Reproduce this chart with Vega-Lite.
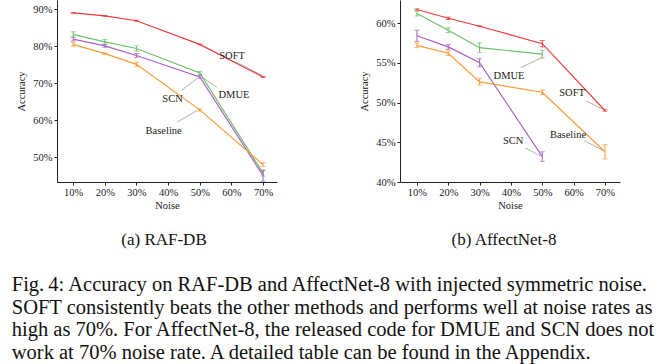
{
  "$schema": "https://vega.github.io/schema/vega-lite/v6.json",
  "background": "white",
  "padding": {"left": 11, "top": 0, "right": 0, "bottom": 0},
  "autosize": {"type": "pad"},
  "config": {
    "font": "Liberation Serif",
    "view": {"stroke": null},
    "axis": {
      "labelFont": "Liberation Serif", "labelFontSize": 10.5, "labelColor": "#222", "labelOverlap": false,
      "titleFont": "Liberation Serif", "titleFontSize": 10.5, "titleFontWeight": "normal", "titleColor": "#222",
      "grid": false, "domainColor": "#222", "domainWidth": 1, "tickColor": "#222", "tickSize": 3, "labelPadding": 2
    },
    "axisX": {"titlePadding": 3},
    "axisY": {"titlePadding": 6},
    "title": {"font": "Liberation Serif", "fontWeight": "normal", "color": "#111"}
  },
  "datasets": {
    "acc": [
      {"ds": "RAF-DB", "method": "SOFT", "noise": 0.1, "acc": 0.890, "err": 0.001},
      {"ds": "RAF-DB", "method": "SOFT", "noise": 0.2, "acc": 0.882, "err": 0.001},
      {"ds": "RAF-DB", "method": "SOFT", "noise": 0.3, "acc": 0.869, "err": 0.0015},
      {"ds": "RAF-DB", "method": "SOFT", "noise": 0.5, "acc": 0.805, "err": 0.001},
      {"ds": "RAF-DB", "method": "SOFT", "noise": 0.7, "acc": 0.717, "err": 0.0015},
      {"ds": "RAF-DB", "method": "DMUE", "noise": 0.1, "acc": 0.832, "err": 0.007},
      {"ds": "RAF-DB", "method": "DMUE", "noise": 0.2, "acc": 0.812, "err": 0.006},
      {"ds": "RAF-DB", "method": "DMUE", "noise": 0.3, "acc": 0.794, "err": 0.007},
      {"ds": "RAF-DB", "method": "DMUE", "noise": 0.5, "acc": 0.728, "err": 0.004},
      {"ds": "RAF-DB", "method": "DMUE", "noise": 0.7, "acc": 0.457, "err": 0.008},
      {"ds": "RAF-DB", "method": "SCN", "noise": 0.1, "acc": 0.819, "err": 0.005},
      {"ds": "RAF-DB", "method": "SCN", "noise": 0.2, "acc": 0.801, "err": 0.004},
      {"ds": "RAF-DB", "method": "SCN", "noise": 0.3, "acc": 0.775, "err": 0.005},
      {"ds": "RAF-DB", "method": "SCN", "noise": 0.5, "acc": 0.717, "err": 0.004},
      {"ds": "RAF-DB", "method": "SCN", "noise": 0.7, "acc": 0.450, "err": 0.015},
      {"ds": "RAF-DB", "method": "Baseline", "noise": 0.1, "acc": 0.805, "err": 0.005},
      {"ds": "RAF-DB", "method": "Baseline", "noise": 0.2, "acc": 0.780, "err": 0.002},
      {"ds": "RAF-DB", "method": "Baseline", "noise": 0.3, "acc": 0.751, "err": 0.006},
      {"ds": "RAF-DB", "method": "Baseline", "noise": 0.5, "acc": 0.628, "err": 0.003},
      {"ds": "RAF-DB", "method": "Baseline", "noise": 0.7, "acc": 0.480, "err": 0.005},
      {"ds": "AffectNet-8", "method": "SOFT", "noise": 0.1, "acc": 0.617, "err": 0.001},
      {"ds": "AffectNet-8", "method": "SOFT", "noise": 0.2, "acc": 0.606, "err": 0.0015},
      {"ds": "AffectNet-8", "method": "SOFT", "noise": 0.3, "acc": 0.596, "err": 0.0005},
      {"ds": "AffectNet-8", "method": "SOFT", "noise": 0.5, "acc": 0.574, "err": 0.004},
      {"ds": "AffectNet-8", "method": "SOFT", "noise": 0.7, "acc": 0.490, "err": 0.001},
      {"ds": "AffectNet-8", "method": "DMUE", "noise": 0.1, "acc": 0.612, "err": 0.003},
      {"ds": "AffectNet-8", "method": "DMUE", "noise": 0.2, "acc": 0.591, "err": 0.003},
      {"ds": "AffectNet-8", "method": "DMUE", "noise": 0.3, "acc": 0.569, "err": 0.006},
      {"ds": "AffectNet-8", "method": "DMUE", "noise": 0.5, "acc": 0.561, "err": 0.005},
      {"ds": "AffectNet-8", "method": "SCN", "noise": 0.1, "acc": 0.584, "err": 0.007},
      {"ds": "AffectNet-8", "method": "SCN", "noise": 0.2, "acc": 0.570, "err": 0.003},
      {"ds": "AffectNet-8", "method": "SCN", "noise": 0.3, "acc": 0.550, "err": 0.005},
      {"ds": "AffectNet-8", "method": "SCN", "noise": 0.5, "acc": 0.432, "err": 0.006},
      {"ds": "AffectNet-8", "method": "Baseline", "noise": 0.1, "acc": 0.572, "err": 0.003},
      {"ds": "AffectNet-8", "method": "Baseline", "noise": 0.2, "acc": 0.562, "err": 0.003},
      {"ds": "AffectNet-8", "method": "Baseline", "noise": 0.3, "acc": 0.526, "err": 0.004},
      {"ds": "AffectNet-8", "method": "Baseline", "noise": 0.5, "acc": 0.513, "err": 0.003},
      {"ds": "AffectNet-8", "method": "Baseline", "noise": 0.7, "acc": 0.438, "err": 0.009}
    ],
    "labels": [
      {"ds": "RAF-DB", "label": "SOFT", "lx": 0.602, "ly": 0.773, "x1": 0.615, "y1": 0.757, "x2": 0.695, "y2": 0.722},
      {"ds": "RAF-DB", "label": "DMUE", "lx": 0.608, "ly": 0.668, "x1": 0.554, "y1": 0.689, "x2": 0.503, "y2": 0.719},
      {"ds": "RAF-DB", "label": "SCN", "lx": 0.414, "ly": 0.657, "x1": 0.443, "y1": 0.681, "x2": 0.493, "y2": 0.714},
      {"ds": "RAF-DB", "label": "Baseline", "lx": 0.386, "ly": 0.570, "x1": 0.429, "y1": 0.595, "x2": 0.493, "y2": 0.627},
      {"ds": "AffectNet-8", "label": "DMUE", "lx": 0.394, "ly": 0.534, "x1": 0.432, "y1": 0.544, "x2": 0.496, "y2": 0.556},
      {"ds": "AffectNet-8", "label": "SOFT", "lx": 0.595, "ly": 0.512, "x1": 0.640, "y1": 0.502, "x2": 0.696, "y2": 0.491},
      {"ds": "AffectNet-8", "label": "Baseline", "lx": 0.582, "ly": 0.459, "x1": 0.634, "y1": 0.452, "x2": 0.693, "y2": 0.440},
      {"ds": "AffectNet-8", "label": "SCN", "lx": 0.407, "ly": 0.452, "x1": 0.445, "y1": 0.443, "x2": 0.493, "y2": 0.433}
    ]
  },
  "title": {
    "text": [
      "Fig.\u20094: Accuracy on RAF-DB and AffectNet-8 with injected symmetric noise.",
      "SOFT consistently beats the other methods and performs well at noise rates as",
      "high as 70%. For AffectNet-8, the released code for DMUE and SCN does not",
      "work at 70% noise rate. A detailed table can be found in the Appendix."
    ],
    "orient": "bottom", "anchor": "start", "frame": "bounds", "dx": -5,
    "fontSize": 20.5, "lineHeight": 22.6, "offset": 27, "color": "#111"
  },
  "spacing": 82,
  "hconcat": [
    {
      "width": 220, "height": 182,
      "title": {"text": "(a) RAF-DB", "orient": "bottom", "fontSize": 17, "offset": 21, "dx": -3},
      "layer": [
        {
          "data": {"name": "acc"},
          "transform": [{"filter": "datum.ds === 'RAF-DB'"}],
          "mark": {"type": "line", "strokeWidth": 1.2},
          "encoding": {
            "x": {"field": "noise", "type": "quantitative", "title": "Noise",
                  "scale": {"domain": [0.049, 0.744], "nice": false, "zero": false},
                  "axis": {"values": [0.1, 0.2, 0.3, 0.4, 0.5, 0.6, 0.7], "tickCount": 10, "format": ".0%", "labelOverlap": false, "labelFlush": false}},
            "y": {"field": "acc", "type": "quantitative", "title": "Accuracy",
                  "scale": {"domain": [0.433, 0.925], "nice": false, "zero": false},
                  "axis": {"values": [0.5, 0.6, 0.7, 0.8, 0.9], "tickCount": 10, "format": ".0%", "labelOverlap": false}},
            "color": {"field": "method", "type": "nominal", "legend": null,
                      "scale": {"domain": ["SOFT", "DMUE", "SCN", "Baseline"], "range": ["#ee3b3b", "#6cc16b", "#a861c6", "#ff9a33"]}}
          }
        },
        {
          "data": {"name": "acc"},
          "transform": [{"filter": "datum.ds === 'RAF-DB'"}],
          "mark": {"type": "errorbar", "ticks": {"size": 5}, "thickness": 1},
          "encoding": {
            "x": {"field": "noise", "type": "quantitative", "title": "Noise"},
            "y": {"field": "acc", "type": "quantitative", "title": "Accuracy"},
            "yError": {"field": "err"},
            "color": {"field": "method", "type": "nominal", "legend": null}
          }
        },
        {
          "data": {"name": "labels"},
          "transform": [{"filter": "datum.ds === 'RAF-DB'"}],
          "mark": {"type": "rule", "color": "#9a9a9a", "strokeWidth": 0.8},
          "encoding": {
            "x": {"field": "x1", "type": "quantitative"},
            "y": {"field": "y1", "type": "quantitative"},
            "x2": {"field": "x2"}, "y2": {"field": "y2"}
          }
        },
        {
          "data": {"name": "labels"},
          "transform": [{"filter": "datum.ds === 'RAF-DB'"}],
          "mark": {"type": "text", "fontSize": 10.5, "color": "#222", "font": "Liberation Serif", "baseline": "middle"},
          "encoding": {
            "x": {"field": "lx", "type": "quantitative"},
            "y": {"field": "ly", "type": "quantitative"},
            "text": {"field": "label"}
          }
        },
        {
          "mark": {"type": "point", "shape": "triangle-up", "filled": true, "size": 18, "color": "#222", "opacity": 1},
          "encoding": {"x": {"datum": 0.049, "type": "quantitative"}, "y": {"datum": 0.925, "type": "quantitative"}}
        },
        {
          "mark": {"type": "point", "shape": "triangle-right", "filled": true, "size": 18, "color": "#222", "opacity": 1},
          "encoding": {"x": {"datum": 0.744, "type": "quantitative"}, "y": {"datum": 0.433, "type": "quantitative"}}
        }
      ]
    },
    {
      "width": 220, "height": 182,
      "title": {"text": "(b) AffectNet-8", "orient": "bottom", "fontSize": 17, "offset": 21, "dx": -6},
      "layer": [
        {
          "data": {"name": "acc"},
          "transform": [{"filter": "datum.ds === 'AffectNet-8'"}],
          "mark": {"type": "line", "strokeWidth": 1.2},
          "encoding": {
            "x": {"field": "noise", "type": "quantitative", "title": "Noise",
                  "scale": {"domain": [0.046, 0.748], "nice": false, "zero": false},
                  "axis": {"values": [0.1, 0.2, 0.3, 0.4, 0.5, 0.6, 0.7], "tickCount": 10, "format": ".0%", "labelOverlap": false, "labelFlush": false}},
            "y": {"field": "acc", "type": "quantitative", "title": "Accuracy",
                  "scale": {"domain": [0.40, 0.629], "nice": false, "zero": false},
                  "axis": {"values": [0.40, 0.45, 0.50, 0.55, 0.60], "tickCount": 10, "format": ".0%", "labelOverlap": false}},
            "color": {"field": "method", "type": "nominal", "legend": null,
                      "scale": {"domain": ["SOFT", "DMUE", "SCN", "Baseline"], "range": ["#ee3b3b", "#6cc16b", "#a861c6", "#ff9a33"]}}
          }
        },
        {
          "data": {"name": "acc"},
          "transform": [{"filter": "datum.ds === 'AffectNet-8'"}],
          "mark": {"type": "errorbar", "ticks": {"size": 5}, "thickness": 1},
          "encoding": {
            "x": {"field": "noise", "type": "quantitative", "title": "Noise"},
            "y": {"field": "acc", "type": "quantitative", "title": "Accuracy"},
            "yError": {"field": "err"},
            "color": {"field": "method", "type": "nominal", "legend": null}
          }
        },
        {
          "data": {"name": "labels"},
          "transform": [{"filter": "datum.ds === 'AffectNet-8'"}],
          "mark": {"type": "rule", "color": "#9a9a9a", "strokeWidth": 0.8},
          "encoding": {
            "x": {"field": "x1", "type": "quantitative"},
            "y": {"field": "y1", "type": "quantitative"},
            "x2": {"field": "x2"}, "y2": {"field": "y2"}
          }
        },
        {
          "data": {"name": "labels"},
          "transform": [{"filter": "datum.ds === 'AffectNet-8'"}],
          "mark": {"type": "text", "fontSize": 10.5, "color": "#222", "font": "Liberation Serif", "baseline": "middle"},
          "encoding": {
            "x": {"field": "lx", "type": "quantitative"},
            "y": {"field": "ly", "type": "quantitative"},
            "text": {"field": "label"}
          }
        },
        {
          "mark": {"type": "point", "shape": "triangle-up", "filled": true, "size": 18, "color": "#222", "opacity": 1},
          "encoding": {"x": {"datum": 0.046, "type": "quantitative"}, "y": {"datum": 0.629, "type": "quantitative"}}
        },
        {
          "mark": {"type": "point", "shape": "triangle-right", "filled": true, "size": 18, "color": "#222", "opacity": 1},
          "encoding": {"x": {"datum": 0.748, "type": "quantitative"}, "y": {"datum": 0.40, "type": "quantitative"}}
        }
      ]
    }
  ]
}
